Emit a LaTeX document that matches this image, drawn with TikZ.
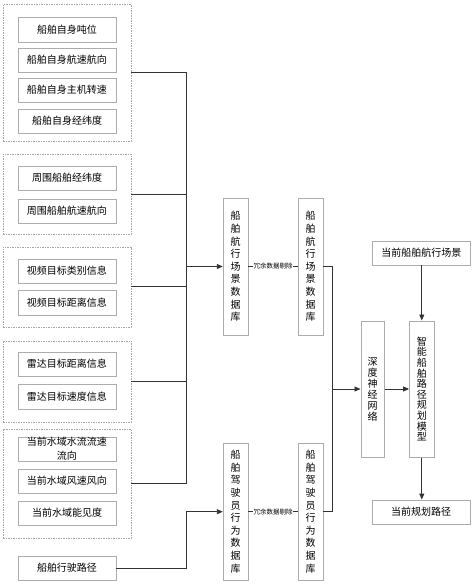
\documentclass[tikz,border=0pt]{standalone}
\usepackage{fontspec}
\setmainfont{Noto Sans CJK SC}
\usetikzlibrary{arrows.meta, positioning, calc}

\tikzset{
  item/.style={draw=gray!65, minimum width=98pt, minimum height=24.5pt, inner sep=0pt, font=\fontsize{10}{12}\selectfont, align=center},
  group/.style={draw=gray!70, dash pattern=on 1.5pt off 1pt, inner sep=0pt},
  dbbox/.style={draw=gray!65, minimum width=25pt, minimum height=137pt, inner sep=0pt, font=\fontsize{10}{12.6}\selectfont, align=center},
  link/.style={draw=black!80, line width=0.9pt},
  arr/.style={link, -{Triangle[length=6pt,width=5pt]}},
  cut/.style={fill=white, inner sep=0.5pt, font=\fontsize{6.5}{7}\selectfont}
}

\begin{document}
\begin{tikzpicture}[x=1pt, y=-1pt]
\useasboundingbox (0,0) rectangle (474,584);

% dashed groups
\node[group, minimum width=128pt, minimum height=136.5pt] (g1) at (67,72.75) {};
\node[group, minimum width=128pt, minimum height=80pt] (g2) at (67,194) {};
\node[group, minimum width=128pt, minimum height=79.7pt] (g3) at (67,286.85) {};
\node[group, minimum width=128pt, minimum height=81pt] (g4) at (67,381.2) {};
\node[group, minimum width=128pt, minimum height=109pt] (g5) at (67,483.5) {};

% input items
\node[item] (own1) at (67,29.5) {船舶自身吨位};
\node[item] (own2) at (67,60) {船舶自身航速航向};
\node[item] (own3) at (67,90) {船舶自身主机转速};
\node[item] (own4) at (67,121) {船舶自身经纬度};
\node[item] (near1) at (67,178) {周围船舶经纬度};
\node[item] (near2) at (67,211) {周围船舶航速航向};
\node[item] (cam1) at (67,271) {视频目标类别信息};
\node[item] (cam2) at (67,302.5) {视频目标距离信息};
\node[item] (rad1) at (67,364) {雷达目标距离信息};
\node[item] (rad2) at (67,396.5) {雷达目标速度信息};
\node[item, font=\fontsize{10}{14}\selectfont] (env1) at (67,449) {当前水域水流流速\\流向};
\node[item] (env2) at (67,481) {当前水域风速风向};
\node[item] (env3) at (67,513) {当前水域能见度};
\node[item] (route) at (67,568) {船舶行驶路径};

% databases
\node[dbbox] (sdb1) at (235.5,266.5) {船\\舶\\航\\行\\场\\景\\数\\据\\库};
\node[dbbox] (sdb2) at (310.5,266.5) {船\\舶\\航\\行\\场\\景\\数\\据\\库};
\node[dbbox] (bdb1) at (235.5,511.7) {船\\舶\\驾\\驶\\员\\行\\为\\数\\据\\库};
\node[dbbox] (bdb2) at (310.5,511.7) {船\\舶\\驾\\驶\\员\\行\\为\\数\\据\\库};

% model side
\node[dbbox, minimum width=23.6pt, minimum height=136.6pt, font=\fontsize{10}{11}\selectfont] (dnn) at (372.5,389) {深\\度\\神\\经\\网\\络};
\node[dbbox, minimum height=136.6pt, font=\fontsize{10}{10.6}\selectfont] (model) at (421.8,389) {智\\能\\船\\舶\\路\\径\\规\\划\\模\\型};
\node[item, minimum width=97.3pt, minimum height=24.3pt] (scene) at (421.3,253) {当前船舶航行场景};
\node[item] (plan) at (421,512) {当前规划路径};

\coordinate (busL) at (186,0);
\coordinate (busR) at (332,0);

% left bus
\draw[link] (g1.east) -- (g1.east -| busL) -- (g5.east -| busL) -- (g5.east);
\foreach \g in {g2,g3,g4}
  \draw[link] (\g.east) -- (\g.east -| busL);
\draw[arr] (sdb1.west -| busL) -- (sdb1.west);
\draw[arr] (route.east) -- (route.east -| busL) |- (bdb1.west);

% redundancy removal
\draw[link] (sdb1.east) -- node[cut] {冗余数据剔除} (sdb2.west);
\draw[link] (bdb1.east) -- node[cut] {冗余数据剔除} (bdb2.west);

% right bus
\draw[link] (sdb2.east) -- (sdb2.east -| busR) -- (bdb2.east -| busR) -- (bdb2.east);
\draw[arr] (dnn.west -| busR) -- (dnn.west);
\draw[arr] (dnn.east) -- (model.west);
\draw[arr] (scene.south -| model.north) -- (model.north);
\draw[arr] (model.south) -- (model.south |- plan.north);

\end{tikzpicture}
\end{document}
